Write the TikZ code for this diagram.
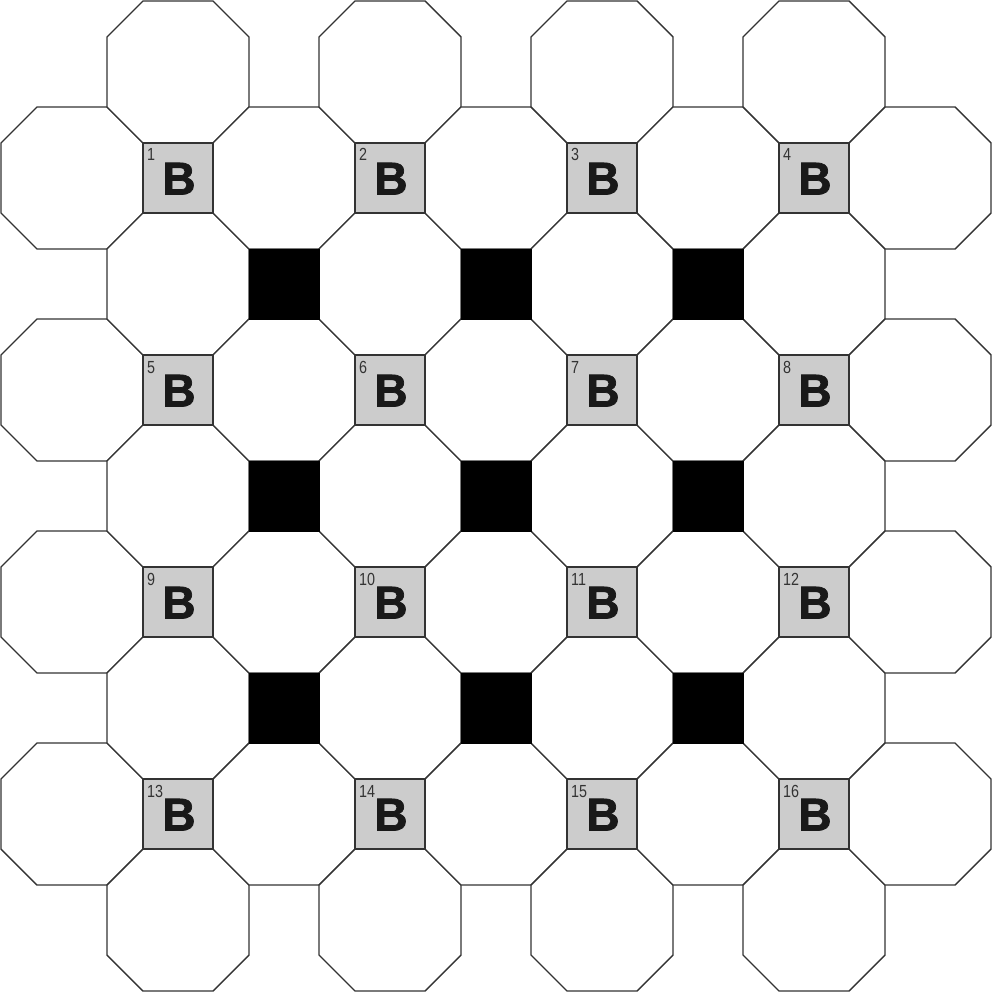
\documentclass[tikz,border=0pt]{standalone}
\usepackage{fontspec}
\usepackage{graphicx}
\setmainfont{Liberation Sans}
\newfontfamily\heavyfont{Liberation Sans}[BoldFeatures={FakeBold=1.6}]
\usetikzlibrary{calc}
\definecolor{edge}{HTML}{333333}
\definecolor{bgray}{HTML}{CCCCCC}
\newcommand{\narrownum}[1]{\scalebox{0.82}[1]{#1}}
\tikzset{
  octa/.style={draw=edge, line width=1.4pt, fill=white, line join=miter},
  graysq/.style={draw=edge, line width=1.4pt, fill=bgray},
  blacksq/.style={fill=black},
  bletter/.style={anchor=base, inner sep=0pt, font=\heavyfont\fontsize{46}{46}\selectfont\bfseries, text=black!90},
  numlab/.style={anchor=base west, inner sep=0pt, font=\fontsize{17.5}{17.5}\selectfont, text=edge}
}
\begin{document}
\begin{tikzpicture}[x=1pt, y=-1pt]
\useasboundingbox (0,0) rectangle (992,992);
\fill[white] (0,0) rectangle (992,992);
% octagons
\foreach \a in {-1,...,7}{
  \foreach \b in {-1,...,7}{
    \pgfmathtruncatemacro{\parity}{mod(\a+\b+20,2)}
    \ifnum\parity=1
      \pgfmathsetmacro{\cx}{178+106*\a}
      \pgfmathsetmacro{\cy}{178+106*\b}
      \draw[octa] (\cx-35,\cy-71) -- (\cx+35,\cy-71) -- (\cx+71,\cy-35) -- (\cx+71,\cy+35)
        -- (\cx+35,\cy+71) -- (\cx-35,\cy+71) -- (\cx-71,\cy+35) -- (\cx-71,\cy-35) -- cycle;
    \fi
  }
}
% black squares
\foreach \a in {1,3,5}{
  \foreach \b in {1,3,5}{
    \pgfmathsetmacro{\cx}{178+106*\a}
    \pgfmathsetmacro{\cy}{178+106*\b}
    \fill[blacksq] (\cx-35.5,\cy-35.5) rectangle (\cx+35.5,\cy+35.5);
  }
}
% gray squares with labels
\foreach \j in {0,1,2,3}{
  \foreach \i in {0,1,2,3}{
    \pgfmathtruncatemacro{\n}{4*\j+\i+1}
    \pgfmathsetmacro{\cx}{178+212*\i}
    \pgfmathsetmacro{\cy}{178+212*\j}
    \draw[graysq] (\cx-35,\cy-35) rectangle (\cx+35,\cy+35);
    \node[bletter] (b\n) at (\cx+1,\cy+16.5) {B};
    \node[numlab] (n\n) at (\cx-31,\cy-17) {\narrownum{\n}};
  }
}
\end{tikzpicture}
\end{document}
